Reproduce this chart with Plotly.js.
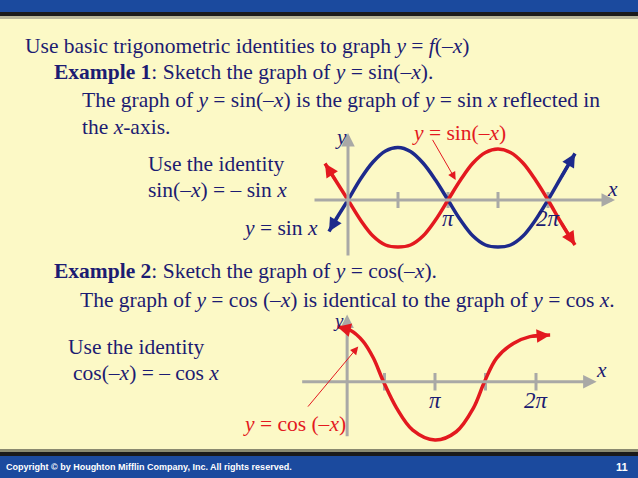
<!DOCTYPE html>
<html><head><meta charset="utf-8">
<script src="https://cdn.plot.ly/plotly-3.0.1.min.js"></script>
<style>html,body{margin:0;padding:0;background:#fcf9c6;}#chart{width:638px;height:478px;}</style>
</head><body><div id="chart"></div>
<script>
// x values are in multiples of π
const sinX    = [-0.19, -0.1, 0, 0.125, 0.25, 0.375, 0.5, 0.625, 0.75, 0.875, 1, 1.125, 1.25, 1.375, 1.5, 1.625, 1.75, 1.875, 2, 2.13, 2.27];
const sinY    = [-0.63, -0.32, 0, 0.42, 0.76, 0.98, 1.05, 0.97, 0.74, 0.4, 0, -0.4, -0.72, -0.9, -0.94, -0.9, -0.72, -0.4, 0, 0.45, 0.93];
const negSinX = [-0.23, -0.12, 0, 0.125, 0.25, 0.375, 0.5, 0.625, 0.75, 0.875, 1, 1.125, 1.25, 1.375, 1.5, 1.625, 1.75, 1.875, 2, 2.13, 2.27];
const negSinY = [0.73, 0.38, 0, -0.4, -0.72, -0.9, -0.94, -0.9, -0.72, -0.4, 0, 0.4, 0.74, 0.95, 1.02, 0.95, 0.74, 0.4, 0, -0.45, -0.9];
const cosNegX = [0.033, 0.158, 0.29, 0.39, 0.49, 0.62, 0.78, 1.0, 1.21, 1.38, 1.49, 1.61, 1.78, 1.94, 2.14];
const cosNegY = [1.0, 0.94, 0.73, 0.43, 0, -0.48, -0.88, -1.06, -0.91, -0.48, 0, 0.43, 0.70, 0.82, 0.85];
const tickVals   = [0.5, 1, 1.5, 2];
const tickLabels = ['', 'π', '', '2π'];

const W = 638, H = 478;
const NAVY = '#1c1c72', RED = '#e3191f', BLUE = '#1d2a8c', GREY = '#a9a9a6';
const SERIF = 'Liberation Serif, Times New Roman, serif';
const FS = 21.5;
const px = v => v / W, py = v => 1 - v / H;

const traces = [
  {x: sinX, y: sinY, xaxis: 'x', yaxis: 'y', mode: 'lines', line: {color: BLUE, width: 3.5, shape: 'spline'}, hoverinfo: 'skip'},
  {x: negSinX, y: negSinY, xaxis: 'x', yaxis: 'y', mode: 'lines', line: {color: RED, width: 3.5, shape: 'spline'}, hoverinfo: 'skip'},
  {x: cosNegX, y: cosNegY, xaxis: 'x2', yaxis: 'y2', mode: 'lines', line: {color: RED, width: 3.5, shape: 'spline'}, hoverinfo: 'skip'}
];

const shapes = [
  {type: 'rect', xref: 'paper', yref: 'paper', x0: 0, x1: 1, y0: py(0), y1: py(12), fillcolor: '#1b4a9e', line: {width: 0}, layer: 'below'},
  {type: 'rect', xref: 'paper', yref: 'paper', x0: 0, x1: 1, y0: py(12), y1: py(16), fillcolor: '#1a1a1a', line: {width: 0}, layer: 'below'},
  {type: 'rect', xref: 'paper', yref: 'paper', x0: 0, x1: 1, y0: py(16), y1: py(19), fillcolor: '#b8b69a', line: {width: 0}, layer: 'below'},
  {type: 'rect', xref: 'paper', yref: 'paper', x0: 0, x1: 1, y0: py(449), y1: py(452), fillcolor: '#8a8a70', line: {width: 0}, layer: 'below'},
  {type: 'rect', xref: 'paper', yref: 'paper', x0: 0, x1: 1, y0: py(452), y1: py(456), fillcolor: '#1a1a1a', line: {width: 0}, layer: 'below'},
  {type: 'rect', xref: 'paper', yref: 'paper', x0: 0, x1: 1, y0: py(456), y1: py(478), fillcolor: '#1b4a9e', line: {width: 0}, layer: 'below'}
];
// tick marks
tickVals.forEach(t => {
  shapes.push({type: 'line', xref: 'x', yref: 'y', x0: t, x1: t, y0: -0.16, y1: 0.16, line: {color: GREY, width: 3}, layer: 'below'});
  shapes.push({type: 'line', xref: 'x2', yref: 'y2', x0: t, x1: t, y0: -0.16, y1: 0.16, line: {color: GREY, width: 3}, layer: 'below'});
});

const ann = [];
function txt(x, y, text, size, color, extra) {
  ann.push(Object.assign({xref: 'paper', yref: 'paper', x: px(x), y: py(y), text: text, showarrow: false,
    xanchor: 'left', yanchor: 'middle', font: {family: SERIF, size: size, color: color}}, extra || {}));
}
function arrow(xr, yr, tipX, tipY, tailX, tailY, color, width, size) {
  ann.push({xref: xr, yref: yr, axref: xr, ayref: yr, x: tipX, y: tipY, ax: tailX, ay: tailY, text: '',
    showarrow: true, arrowhead: 2, arrowsize: size, arrowwidth: width, arrowcolor: color, standoff: 0, startstandoff: 0});
}
// axes with arrows
arrow('x', 'y', 2.67, 0, -0.35, 0, GREY, 3, 0.9);
arrow('x', 'y', 0, 1.34, 0, -1.14, GREY, 3, 0.9);
arrow('x2', 'y2', 2.6, 0, -0.33, 0, GREY, 3, 0.9);
arrow('x2', 'y2', 0.13, 1.22, 0.13, -1.02, GREY, 3, 0.9);
// curve end arrows
arrow('x', 'y', sinX[0], sinY[0], sinX[1], sinY[1], BLUE, 3, 0.9);
arrow('x', 'y', sinX[sinX.length-1], sinY[sinY.length-1], sinX[sinX.length-2], sinY[sinY.length-2], BLUE, 3, 0.9);
arrow('x', 'y', negSinX[0], negSinY[0], negSinX[1], negSinY[1], RED, 3, 0.9);
arrow('x', 'y', negSinX[negSinX.length-1], negSinY[negSinY.length-1], negSinX[negSinX.length-2], negSinY[negSinY.length-2], RED, 3, 0.9);
arrow('x2', 'y2', cosNegX[0], cosNegY[0], cosNegX[1], cosNegY[1], RED, 3, 0.9);
arrow('x2', 'y2', cosNegX[cosNegX.length-1], cosNegY[cosNegY.length-1], cosNegX[cosNegX.length-2], cosNegY[cosNegY.length-2], RED, 3, 0.9);
// pointer arrows
arrow('x', 'y', 1.077, 0.4, 0.837, 1.233, RED, 1, 1.6);
arrow('x2', 'y2', 0.24, 0.64, -0.27, -0.48, RED, 1, 1.6);
// tick labels
tickVals.forEach((t, i) => {
  if (!tickLabels[i]) return;
  ann.push({xref: 'x', yref: 'y', x: t, y: -0.37, text: '<i>' + tickLabels[i] + '</i>', showarrow: false, xanchor: 'center', yanchor: 'middle', font: {family: SERIF, size: 23, color: NAVY}});
  ann.push({xref: 'x2', yref: 'y2', x: t, y: -0.34, text: '<i>' + tickLabels[i] + '</i>', showarrow: false, xanchor: 'center', yanchor: 'middle', font: {family: SERIF, size: 23, color: NAVY}});
});

const I = s => '<i>' + s + '</i>';
txt(23, 46, 'Use basic trigonometric identities to graph ' + I('y') + ' = ' + I('f') + '(–' + I('x') + ')', FS, NAVY);
txt(52, 72, '<b>Example 1</b>: Sketch the graph of ' + I('y') + ' = sin(–' + I('x') + ').', FS, NAVY);
txt(80, 100, 'The graph of ' + I('y') + ' = sin(–' + I('x') + ') is the graph of ' + I('y') + ' = sin ' + I('x') + ' reflected in', FS, NAVY);
txt(80, 127, 'the ' + I('x') + '-axis.', FS, NAVY);
txt(146, 164, 'Use the identity', FS, NAVY);
txt(146, 190, 'sin(–' + I('x') + ') = – sin ' + I('x'), FS, NAVY);
txt(241, 228, I('y') + ' = sin ' + I('x'), FS, NAVY);
txt(410, 133, I('y') + ' = sin(–' + I('x') + ')', FS, RED);
txt(333, 137, I('y'), FS, NAVY);
txt(605, 189, I('x'), FS, NAVY);
txt(52, 271, '<b>Example 2</b>: Sketch the graph of ' + I('y') + ' = cos(–' + I('x') + ').', FS, NAVY);
txt(78, 300, 'The graph of ' + I('y') + ' = cos (–' + I('x') + ') is identical to the graph of ' + I('y') + ' = cos ' + I('x') + '.', FS, NAVY);
txt(66, 347, 'Use the identity', FS, NAVY);
txt(71, 373, 'cos(–' + I('x') + ') = – cos ' + I('x'), FS, NAVY);
txt(241, 424, I('y') + ' = cos (–' + I('x') + ')', FS, RED);
txt(331, 320, I('y'), 19, NAVY);
txt(594, 370, I('x'), FS, NAVY);
// footer
ann.push({xref: 'paper', yref: 'paper', x: px(4), y: py(467), text: '<b>Copyright © by Houghton Mifflin Company, Inc. All rights reserved.</b>', showarrow: false, xanchor: 'left', yanchor: 'middle', font: {family: 'Liberation Sans, Arial, sans-serif', size: 9, color: '#ffffff'}});
ann.push({xref: 'paper', yref: 'paper', x: px(630), y: py(467), text: '<b>11</b>', showarrow: false, xanchor: 'right', yanchor: 'middle', font: {family: 'Liberation Sans, Arial, sans-serif', size: 11, color: '#ffffff'}});

const layout = {
  width: W, height: H, margin: {l: 0, r: 0, t: 0, b: 0}, showlegend: false,
  paper_bgcolor: '#fcf9c6', plot_bgcolor: 'rgba(0,0,0,0)',
  xaxis: {domain: [px(308), px(618)], range: [-0.4, 2.7], visible: false, fixedrange: true},
  yaxis: {domain: [py(260), py(130)], range: [-1.2, 1.4], visible: false, fixedrange: true},
  xaxis2: {domain: [px(334 - 0.36 * 101), px(334 + 2.61 * 101)], range: [-0.36, 2.61], visible: false, anchor: 'y2', fixedrange: true},
  yaxis2: {domain: [py(381.7 + 1.15 * 55), py(381.7 - 1.3 * 55)], range: [-1.15, 1.3], visible: false, anchor: 'x2', fixedrange: true},
  shapes: shapes, annotations: ann
};
Plotly.newPlot('chart', traces, layout, {staticPlot: true, displayModeBar: false});
</script></body></html>
